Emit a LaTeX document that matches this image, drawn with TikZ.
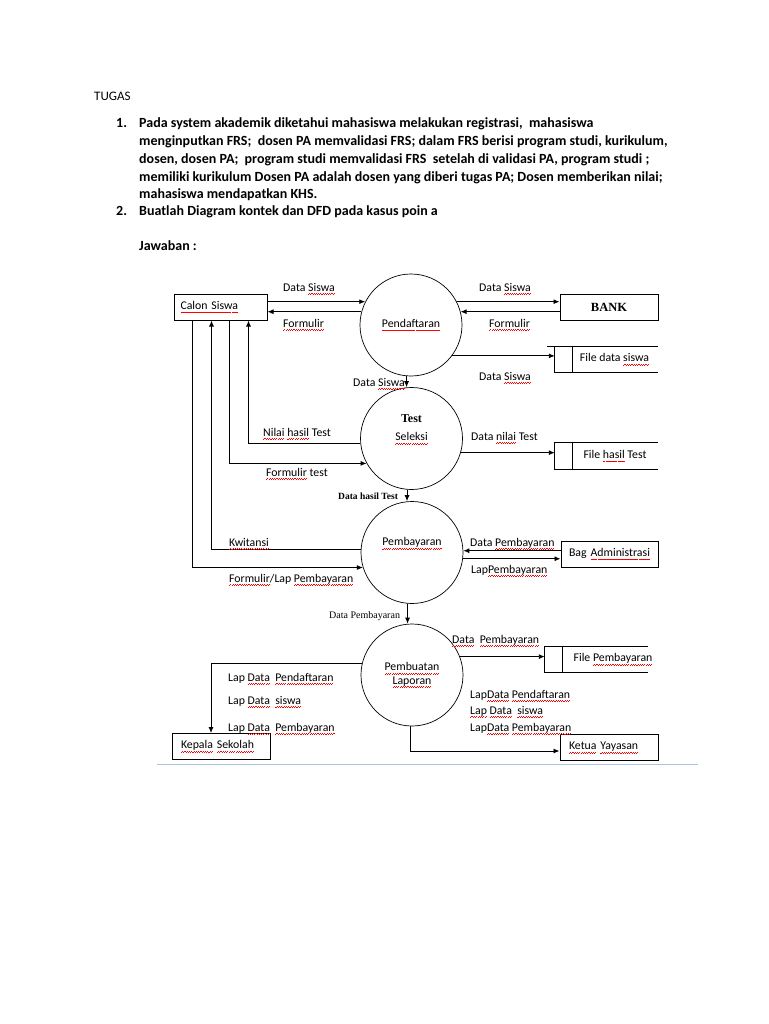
\documentclass[tikz,border=0pt]{standalone}
\usepackage{fontspec}
\setmainfont{Carlito}
\newfontfamily\timesfont{Liberation Serif}
\usepackage{tikz}
\usetikzlibrary{arrows.meta, positioning, calc}

\definecolor{rulecol}{RGB}{170,196,226}
\newcommand{\lbfont}{\fontsize{11.8}{13.5}\selectfont}
\newcommand{\txfont}{\fontsize{14}{16}\selectfont}
% red spelling squiggle under a word
\newbox\sqbx
\newcommand{\sq}[1]{\setbox\sqbx\hbox{#1}\rlap{\hbox to\wd\sqbx{\color{red}\xleaders\hbox{\rule[-3.5pt]{1.1pt}{0.5pt}\rule[-2.8pt]{1.1pt}{0.5pt}}\hfil}}\box\sqbx}

\begin{document}
\begin{tikzpicture}[x=1pt, y=-1pt,
  flow/.style={-{Latex[length=6pt,width=5pt]}, line width=0.9pt},
  box/.style={draw, line width=1pt, minimum height=26pt, minimum width=98pt, inner sep=0pt, text width=80pt, font=\lbfont},
  proc/.style={draw, circle, line width=0.7pt, minimum size=102pt, inner sep=0pt, font=\lbfont, align=center},
  store/.style={minimum width=103pt, minimum height=25pt, inner sep=0pt, font=\lbfont},
  lbl/.style={anchor=base west, inner sep=0pt, font=\lbfont},
  txt/.style={anchor=base west, inner sep=0pt, font=\txfont\bfseries}]
  \useasboundingbox[fill=white] (0,0) rectangle (768,1024);

  % --- Task text ---
  \node[txt, font=\fontsize{13}{15}\selectfont] (tugas) at (94,100.5) {TUGAS};
  \node[txt] (no1) at (116,127.5) {1.};
  \node[txt] (l1) at (139,127.5) {Pada system akademik diketahui mahasiswa melakukan registrasi,\ \ mahasiswa};
  \node[txt] (l2) at (139,145.5) {menginputkan FRS;\ \ dosen PA memvalidasi FRS; dalam FRS berisi program studi, kurikulum,};
  \node[txt] (l3) at (139,163.5) {dosen, dosen PA;\ \ program studi memvalidasi FRS\ \ setelah di validasi PA, program studi ;};
  \node[txt] (l4) at (139,181.5) {memiliki kurikulum Dosen PA adalah dosen yang diberi tugas PA; Dosen memberikan nilai;};
  \node[txt] (l5) at (139,198.5) {mahasiswa mendapatkan KHS.};
  \node[txt] (no2) at (116,215.5) {2.};
  \node[txt] (l6) at (139,215.5) {Buatlah Diagram kontek dan DFD pada kasus poin a};
  \node[txt] (jawab) at (139,250.5) {Jawaban :};

  % --- Processes ---
  \node[proc] (daftar) at (411,325) {\sq{Pendaftaran}};
  \node[proc, label={[yshift=9pt, align=center, font=\lbfont]center:{\timesfont\bfseries\fontsize{12}{14}\selectfont Test}\\[5pt]\sq{Seleksi}}] (test) at (411.5,438.5) {};
  \node[proc, label={[yshift=9pt, font=\lbfont]center:\sq{Pembayaran}}] (bayar) at (412,552.5) {};
  \node[proc] (laporan) at (412,675) {\sq{Pembuatan}\\\sq{Laporan}};

  % --- External entities ---
  \node[box, minimum width=93pt, align=left] (calon) at (220.5,307) {\sq{Calon Siswa}};
  \node[box, align=center, font=\timesfont\bfseries\fontsize{12.5}{14}\selectfont] (bank) at (609,307) {BANK};
  \node[box, minimum width=97pt, text width=92pt, align=center] (admin) at (609.5,554) {Bag \sq{Administrasi}};
  \node[box, align=left] (kepsek) at (221,746.5) {\sq{Kepala} \sq{Sekolah}};
  \node[box, align=left] (ketua) at (609,747.5) {\sq{Ketua} \sq{Yayasan}};

  % --- Data stores (open on the right) ---
  \node[store, label={[xshift=8pt, font=\lbfont]center:File data \sq{siswa}}] (fdata) at (606.5,359.5) {};
  \node[store, minimum height=26pt, label={[xshift=8.5pt, font=\lbfont]center:File \sq{hasil} Test}] (fhasil) at (606.5,456) {};
  \node[store, label={[xshift=16.5pt, font=\lbfont]center:File \sq{Pembayaran}}] (fbayar) at (596.5,659.5) {};
  \foreach \s in {fdata, fhasil, fbayar}{
    \draw[line width=1pt] (\s.north east) -- (\s.north west) -- (\s.south west) -- (\s.south east);
    \draw[line width=1pt] ([xshift=18pt]\s.north west) -- ([xshift=18pt]\s.south west);
  }
  \draw[line width=1pt] ([xshift=-8pt]fdata.north west) -- (fdata.north west);

  % --- Pendaftaran flows ---
  \draw[flow] (calon.east |- daftar.153) -- (daftar.153);
  \draw[flow] (daftar.165) -- (daftar.165 -| calon.east);
  \draw[flow] (daftar.27) -- (daftar.27 -| bank.west);
  \draw[flow] (bank.west |- daftar.15) -- (daftar.15);
  \draw[flow] (daftar.-37) -- (daftar.-37 -| fdata.west);
  \draw[flow] (daftar.265) -- (daftar.265 |- test.north);
  \node[lbl] (ds1) at (283,291) {Data \sq{Siswa}};
  \node[lbl] (fm1) at (283,327) {\sq{Formulir}};
  \node[lbl] (ds2) at (479,291) {Data \sq{Siswa}};
  \node[lbl] (fm2) at (489,327) {\sq{Formulir}};
  \node[lbl] (ds3) at (479,380) {Data \sq{Siswa}};
  \node[lbl] (ds4) at (353,386) {Data \sq{Siswa}};

  % --- Test flows ---
  \draw[flow] (test.186) -| ([xshift=28pt]calon.south);
  \draw[flow] ([xshift=9pt]calon.south) |- (test.209);
  \draw[flow] (test.-16) -- (test.-16 -| fhasil.west);
  \draw[flow] (test.265) -- (test.265 |- bayar.north);
  \node[lbl] (nht) at (263,436) {\sq{Nilai} \sq{hasil} Test};
  \node[lbl] (fmt) at (266,476) {\sq{Formulir} test};
  \node[lbl] (dnt) at (471,440) {Data \sq{nilai} Test};
  \node[lbl, font=\timesfont\bfseries\fontsize{9.5}{11}\selectfont] (dht) at (338,499) {Data hasil Test};

  % --- Pembayaran flows ---
  \draw[flow] (bayar.177) -| ([xshift=-9pt]calon.south);
  \draw[flow] ([xshift=-28pt]calon.south) |- (bayar.197);
  \draw[flow] (admin.west |- bayar.2) -- (bayar.2);
  \draw[flow] (bayar.-7) -- (bayar.-7 -| admin.west);
  \draw[flow] (bayar.265) -- (bayar.265 |- laporan.north);
  \node[lbl] (kwt) at (229,546) {\sq{Kwitansi}};
  \node[lbl] (flp) at (229,582) {\sq{Formulir}/Lap \sq{Pembayaran}};
  \node[lbl] (dpb1) at (470,546) {Data \sq{Pembayaran}};
  \node[lbl] (lpb) at (471,573) {Lap\sq{Pembayaran}};
  \node[lbl, font=\timesfont\fontsize{10}{12}\selectfont] (dpb2) at (329,618) {Data Pembayaran};

  % --- Laporan flows ---
  \draw[flow] (laporan.21) -- (laporan.21 -| fbayar.west);
  \draw[flow] (laporan.167) -| ([xshift=-10pt]kepsek.north);
  \draw[flow] (laporan.268) |- ([yshift=-3.5pt]ketua.west);
  \node[lbl] (dpb3) at (452,643) {\sq{Data}\ \ \sq{Pembayaran}};
  \node[lbl] (lk1) at (228,681) {Lap \sq{Data}\ \ \sq{Pendaftaran}};
  \node[lbl] (lk2) at (228,704) {Lap \sq{Data}\ \ \sq{siswa}};
  \node[lbl] (lk3) at (228,731) {Lap \sq{Data}\ \ \sq{Pembayaran}};
  \node[lbl] (lt1) at (470,698) {Lap\sq{Data}\ \sq{Pendaftaran}};
  \node[lbl] (lt2) at (470,714) {\sq{Lap}\ \sq{Data}\ \ \sq{siswa}};
  \node[lbl] (lt3) at (470,731) {Lap\sq{Data}\ \sq{Pembayaran}};

  % --- page rule ---
  \draw[rulecol, line width=1pt] (157,764) -- (698,764);
\end{tikzpicture}
\end{document}
